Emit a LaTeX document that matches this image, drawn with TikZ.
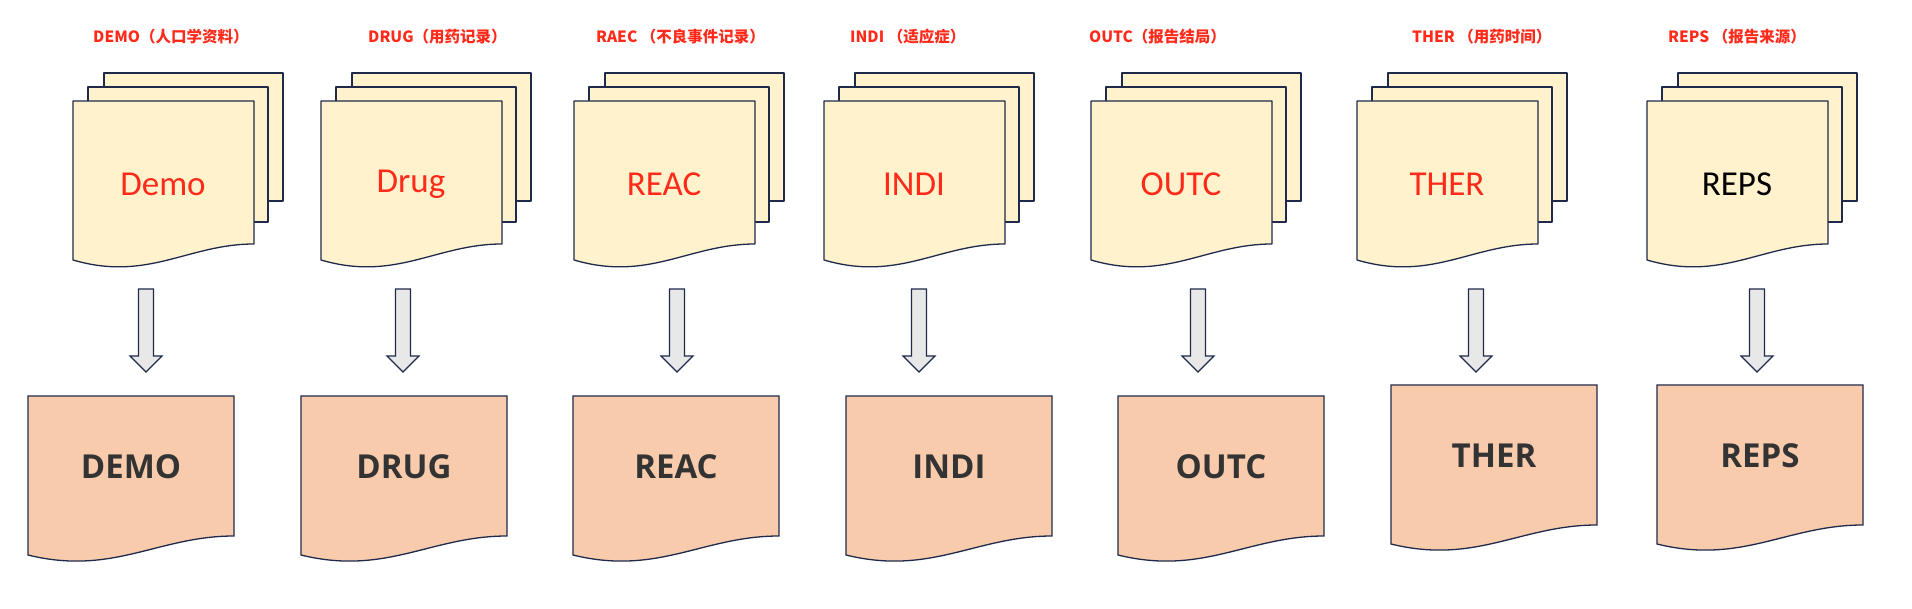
\documentclass[tikz,border=0pt]{standalone}
\usepackage{fontspec}
\setmainfont{Carlito}
\newfontfamily\cjk{Noto Sans CJK SC}
\newfontfamily\boldsans{Open Sans}
\begin{document}
\begin{tikzpicture}[x=1pt,y=-1pt,
  pg/.style={draw=navy,line width=1.3pt,fill=paper,line join=round},
  bd/.style={draw=navy,line width=1.3pt,fill=peach},
  ar/.style={draw=navy,line width=1.1pt,fill=arrowgray,line join=miter},
  ttl/.style={anchor=west,text=redtxt,font=\cjk\bfseries\fontsize{15.5}{15.5}\selectfont,inner sep=0},
  stk/.style={font=\fontsize{35}{35}\selectfont,inner sep=0},
  btx/.style={font=\boldsans\bfseries\fontsize{33}{33}\selectfont,text=darktxt,inner sep=0}]
\definecolor{navy}{HTML}{1F2A4A}
\definecolor{paper}{HTML}{FFF2CC}
\definecolor{peach}{HTML}{F8CBAD}
\definecolor{arrowgray}{HTML}{E8E8E8}
\definecolor{redtxt}{HTML}{FF2A1A}
\definecolor{darktxt}{HTML}{333333}
\useasboundingbox (0,0) rectangle (1912,609);
\foreach \fx/\ax/\bx/\tx/\bt/\lab/\blab/\ttext/\tcol [count=\i] in {
 73/146/28/93/396/Demo/DEMO/{DEMO（人口学资料）}/redtxt,
 321/403/301/368/396/Drug/DRUG/{DRUG（用药记录）}/redtxt,
 574/677/573/596/396/REAC/REAC/{RAEC （不良事件记录）}/redtxt,
 824/919/846/850/396/INDI/INDI/{INDI （适应症）}/redtxt,
 1091/1198/1118/1089/396/OUTC/OUTC/{OUTC（报告结局）}/redtxt,
 1357/1476/1391/1412/385/THER/THER/{THER （用药时间）}/redtxt,
 1647/1757/1657/1668/385/REPS/REPS/{REPS （报告来源）}/black}{
  \node[ttl] (t\i) at (\tx,37) {\ttext};
  \draw[pg] (\fx+31,73) rectangle (\fx+210,201);
  \draw[pg] (\fx+15,87) rectangle (\fx+195,222);
  \draw[pg] (\fx,101) -- (\fx+181,101) -- (\fx+181,244)
     .. controls (\fx+115,244) and (\fx+75,282) .. (\fx,260) -- cycle;
  \node[stk,text=\tcol] (s\i) at (\fx+90,184) {\lab};
  \draw[ar] (\ax-7.5,289) -- (\ax+7.5,289) -- (\ax+7.5,356) -- (\ax+16,356)
     -- (\ax,372) -- (\ax-16,356) -- (\ax-7.5,356) -- cycle;
  \draw[bd] (\bx,\bt) -- (\bx+206,\bt) -- (\bx+206,\bt+140)
     .. controls (\bx+130,\bt+140) and (\bx+85,\bt+180) .. (\bx,\bt+159) -- cycle;
  \node[btx] (b\i) at (\bx+103,\bt+71) {\blab};
}
\end{tikzpicture}
\end{document}
